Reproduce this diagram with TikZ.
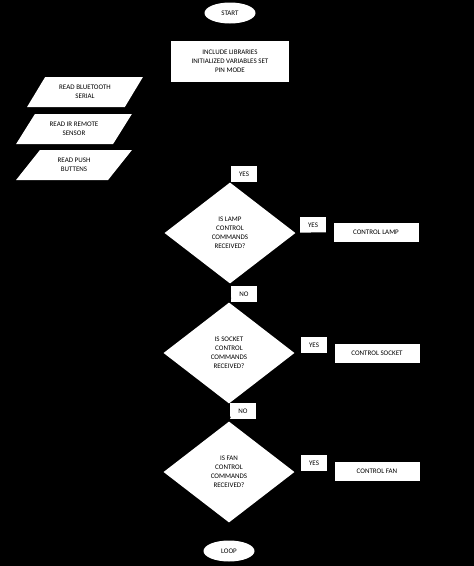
\documentclass[tikz,border=0pt]{standalone}
\usepackage{fontspec}
\setmainfont{Carlito}
\usetikzlibrary{shapes.geometric,arrows.meta}
\begin{document}
\begin{tikzpicture}[x=1pt,y=-1pt,
  every node/.style={font=\fontsize{7}{9}\selectfont,align=center,fill=white,text=black,inner sep=1pt},
  box/.style={rectangle,minimum width=#1},
  io/.style={trapezium,trapezium left angle=52,trapezium right angle=128,minimum height=30pt,minimum width=116pt,trapezium stretches=true},
  dec/.style={diamond,minimum width=131pt,minimum height=101pt,aspect=1.3},
  term/.style={ellipse,minimum width=51pt,minimum height=21pt},
  lab/.style={rectangle,minimum width=26pt,minimum height=16pt},
  conn/.style={draw=black,-{Stealth}}]
\fill[black] (0,0) rectangle (474,566);
\useasboundingbox (0,0) rectangle (474,566);
\node[term] (start) at (230,13) {START};
\node[box=118pt,minimum height=41pt] (init) at (230,61.5) {INCLUDE LIBRARIES\\INITIALIZED VARIABLES SET\\PIN MODE};
\node[io] (bt) at (85,92) {READ BLUETOOTH\\SERIAL};
\node[io] (ir) at (74,129) {READ IR REMOTE\\SENSOR};
\node[io] (pb) at (74,165) {READ PUSH\\BUTTENS};
\node[lab] (yes0) at (244,174) {YES};
\node[dec] (d1) at (230,233) {IS LAMP\\CONTROL\\COMMANDS\\RECEIVED?};
\node[lab] (yes1) at (313,225) {YES};
\node[box=85pt,minimum height=19pt] (lamp) at (376,232) {CONTROL LAMP};
\node[lab] (no1) at (244,294) {NO};
\node[dec] (d2) at (229,353) {IS SOCKET\\CONTROL\\COMMANDS\\RECEIVED?};
\node[lab] (yes2) at (314,345) {YES};
\node[box=85pt,minimum height=19pt] (socket) at (377,353) {CONTROL SOCKET};
\node[lab] (no2) at (243,411) {NO};
\node[dec] (d3) at (229,472) {IS FAN\\CONTROL\\COMMANDS\\RECEIVED?};
\node[lab] (yes3) at (314,463) {YES};
\node[box=85pt,minimum height=19pt] (fan) at (377,471) {CONTROL FAN};
\node[term] (loop) at (229,551) {LOOP};
\draw[conn] (start) -- (init);
\draw[conn] (d1) -- (lamp);
\draw[conn] (d1) -- (d2);
\draw[conn] (d2) -- (socket);
\draw[conn] (d2) -- (d3);
\draw[conn] (d3) -- (fan);
\draw[conn] (d3) -- (loop);
\end{tikzpicture}
\end{document}
